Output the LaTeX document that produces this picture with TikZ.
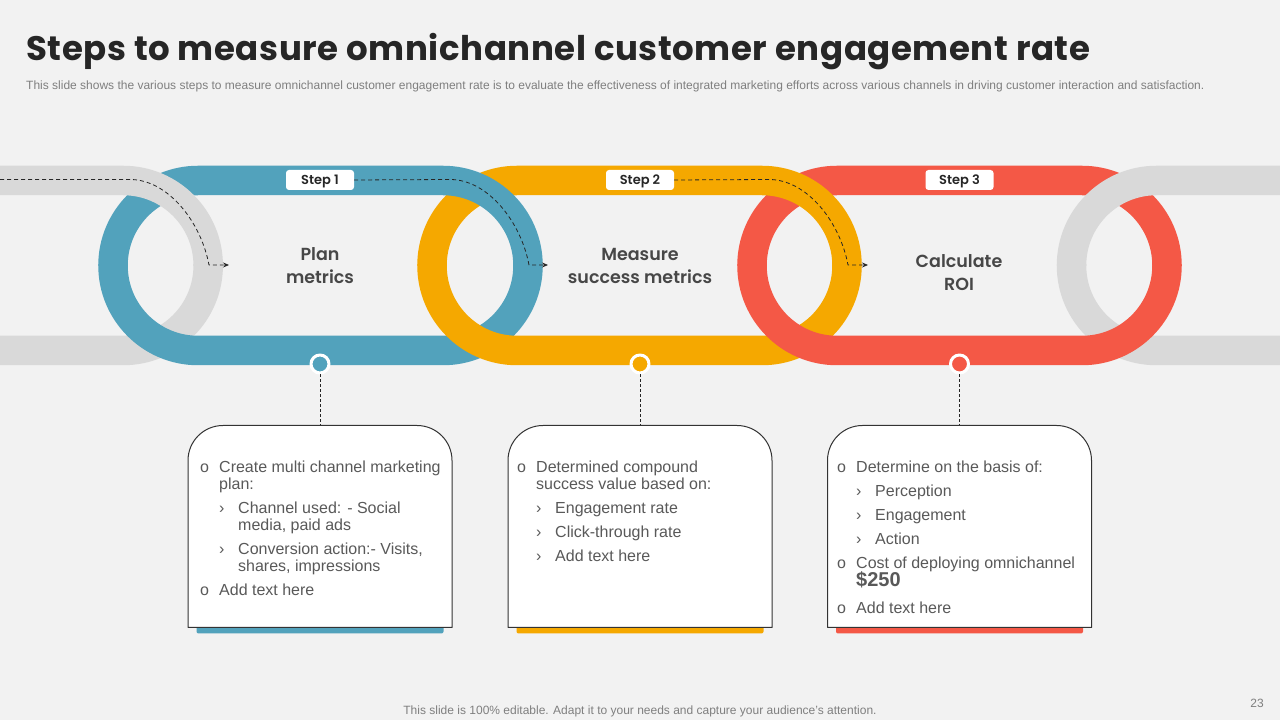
\documentclass[tikz,border=0pt]{standalone}
\usepackage{fontspec}
\usetikzlibrary{arrows.meta}
\setmainfont{Liberation Sans}
\newfontfamily\gothic{Poppins SemiBold}
\newfontfamily\gothictitle[LetterSpace=1.7]{Poppins}
\definecolor{pagebg}{HTML}{F2F2F2}
\definecolor{linkblue}{HTML}{52A2BC}
\definecolor{linkorange}{HTML}{F5A800}
\definecolor{linkred}{HTML}{F45846}
\definecolor{linkgrey}{HTML}{D9D9D9}
\definecolor{inktitle}{HTML}{262626}
\definecolor{inkbody}{HTML}{595959}
\definecolor{inknote}{HTML}{7F7F7F}
\tikzset{
	band/.style={line width=29.5pt},
	stepbox/.style={fill=white,rounded corners=3pt,minimum width=68pt,minimum height=20pt,inner sep=0pt,text height=10pt,text depth=0pt,text=inktitle,font=\gothic\fontsize{13}{14}\selectfont},
	headtext/.style={align=center,inner sep=0pt,text=inkbody!80!black,font=\gothic\fontsize{17.5}{23}\selectfont},
	flowline/.style={-{Stealth[length=6pt,width=5pt]},black!85,line width=0.8pt,dash pattern=on 4pt off 3pt},
	tieline/.style={black!85,line width=0.8pt,dash pattern=on 3pt off 2pt},
	cardbox/.style={fill=white,draw=black!80,line width=1pt},
	rowtext/.style={anchor=base west,align=left,inner sep=0pt,text=inkbody,font=\fontsize{16}{17}\selectfont},
	notetext/.style={inner sep=0pt,text=inknote,font=\fontsize{12}{14}\selectfont}
}
\newcommand{\chainlink}[3]{\draw[band,#1] (#2,\ytop)--(#3,\ytop) arc[start angle=90,end angle=-90,radius=\rlink]--(#2,\ybot) arc[start angle=270,end angle=90,radius=\rlink]--cycle;}
\newcommand{\leftend}{\draw[band,linkgrey] (0,\ytop)--(123.2,\ytop) arc[start angle=90,end angle=-90,radius=\rlink]--(0,\ybot);}
\newcommand{\rightend}{\draw[band,linkgrey] (1280,\ytop)--(1156.5,\ytop) arc[start angle=90,end angle=270,radius=\rlink]--(1280,\ybot);}
\begin{document}
\begin{tikzpicture}[x=1pt,y=1pt,line join=round,>=stealth]
	\def\ytop{539.5}\def\ybot{369.5}\def\rlink{85}
	\fill[pagebg] (0,0) rectangle (1280,720);
	\useasboundingbox (0,0) rectangle (1280,720);
	% upper half of the chain
	\begin{scope}
		\clip (0,454) rectangle (1280,720);
		\chainlink{linkred}{837}{1082}
		\chainlink{linkorange}{517}{762}
		\chainlink{linkblue}{198}{443}
		\leftend
		\rightend
	\end{scope}
	% lower half of the chain
	\begin{scope}
		\clip (0,0) rectangle (1280,455);
		\leftend
		\rightend
		\chainlink{linkblue}{198}{443}
		\chainlink{linkorange}{517}{762}
		\chainlink{linkred}{837}{1082}
	\end{scope}
	% title
	\node[anchor=base west,inner sep=0pt,text=inktitle,font=\gothictitle\bfseries\fontsize{34}{36}\selectfont] (title) at (26,659) {Steps to measure omnichannel customer engagement rate};
	\node[notetext,anchor=base west] (subtitle) at (26,630) {This slide shows the various steps to measure omnichannel customer engagement rate is to evaluate the effectiveness of integrated marketing efforts across various channels in driving customer interaction and satisfaction.};
	\node[notetext,anchor=base] (footer) at (640,5) {This slide is 100\% editable. Adapt it to your needs and capture your audience's attention.};
	\node[notetext,anchor=base] (pagenum) at (1257,12) {23};
	% steps and cards
	\foreach \n/\cx/\col in {1/320/linkblue,2/640/linkorange,3/959.5/linkred}{
		\node[stepbox] (step\n) at (\cx,540) {Step \n};
		\fill[\col,rounded corners=2pt] (\cx-123.5,96) rectangle (\cx+123.5,86.5);
		\draw[cardbox] (\cx-132,92.5)--(\cx-132,259.5) arc[start angle=180,end angle=90,radius=35]--(\cx+97,294.5) arc[start angle=90,end angle=0,radius=35]--(\cx+132,92.5)--cycle;
		\coordinate (cardtop\n) at (\cx,294.5);
		\node[circle,fill=\col,draw=white,line width=3pt,minimum size=18pt,inner sep=0pt] (dot\n) at (\cx,356) {};
		\draw[tieline] (dot\n.south)--(cardtop\n);
	}
	\node[headtext] (head1) at (320,454) {Plan\\metrics};
	\node[headtext] (head2) at (640,454) {Measure\\success metrics};
	\node[headtext] (head3) at (959,447) {Calculate\\ROI};
	% dashed arrows along the links
	\coordinate (startA) at (0,540.5);
	\coordinate (endA) at (229,455);
	\coordinate (endB) at (548,455);
	\coordinate (endC) at (868,455);
	\draw[flowline] (startA)--(130,540.5) .. controls (168,540.5) and (201,498) .. (209,455)--(endA);
	\draw[flowline] (step1.east)--(450,540.5) .. controls (488,540.5) and (521,498) .. (529,455)--(endB);
	\draw[flowline] (step2.east)--(769,540.5) .. controls (807,540.5) and (840,498) .. (848,455)--(endC);
	% card texts, \by is the last line and \my the first
	\foreach \nm/\tx/\by/\my/\bul/\txt in {
		ca/219/230/247/o/{Create multi channel marketing\\plan:},
		cb/238/189/206/›/{Channel used: - Social\\media, paid ads},
		cc/238/148/165/›/{Conversion action:- Visits,\\shares, impressions},
		cd/219/124/124/o/{Add text here},
		da/536/230/247/o/{Determined compound\\success value based on:},
		db/555/206/206/›/{Engagement rate},
		dc/555/182/182/›/{Click-through rate},
		dd/555/158/158/›/{Add text here},
		ea/856/247/247/o/{Determine on the basis of:},
		eb/875/223/223/›/{Perception},
		ec/875/199/199/›/{Engagement},
		ed/875/175/175/›/{Action},
		ee/856/151/151/o/{Cost of deploying omnichannel},
		ef/856/106/106/o/{Add text here}}{
		\node[rowtext] (\nm) at (\tx,\by) {\txt};
		\node[rowtext] (\nm mark) at (\tx-19,\my) {\bul};
	}
	\node[rowtext,font=\bfseries\fontsize{20}{20}\selectfont] (eg) at (856,133) {\$250};
\end{tikzpicture}
\end{document}
